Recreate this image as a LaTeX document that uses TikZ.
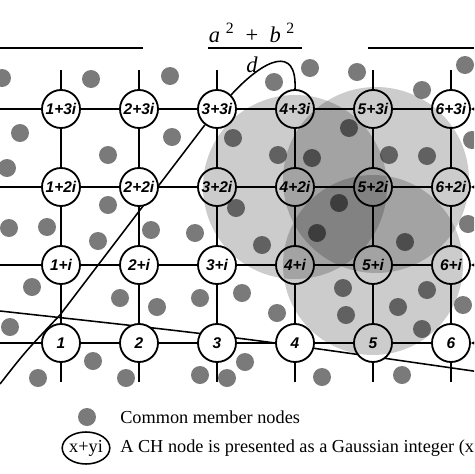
\documentclass[tikz,border=0pt]{standalone}
\usepackage{fontspec}
\setmainfont{Liberation Serif}
\newfontfamily\chfont{Liberation Sans}
\usetikzlibrary{arrows.meta,shapes.geometric}
\pgfdeclarelayer{background}
\pgfsetlayers{background,main}

\tikzset{
  chnode/.style={circle, draw, line width=1.3pt, fill=white, inner sep=0pt,
    minimum size=9.5mm, font=\chfont\bfseries\itshape\fontsize{11}{13}\selectfont},
  member/.style={fill=black!52},
  wire/.style={line width=1.1pt},
  cover/.style={fill=black, opacity=0.2},
  legend/.style={anchor=west, inner sep=0pt, font=\fontsize{13}{15}\selectfont},
}

\begin{document}
\begin{tikzpicture}[x=0.25mm, y=-0.25mm]
\useasboundingbox (0,0) rectangle (474,474);
\clip (0,0) rectangle (474,474);

% member nodes
\foreach \p in {(2,78),(91,79),(170,76),(274,82),(310,68),(357,72),(422,90),(465,65),
    (20,133),(172,137),(108,155),(7,168),(233,138),(278,155),(312,158),(349,128),
    (389,155),(427,156),(472,140),(108,205),(236,208),(339,203),(317,233),(262,245),
    (405,242),(468,224),(9,228),(47,227),(98,241),(151,230),(195,233),(32,287),
    (120,298),(157,307),(200,298),(242,293),(343,288),(427,290),(10,327),(277,313),
    (346,315),(398,307),(422,329),(463,305),(93,361),(245,362),(38,378),(126,378),
    (200,375),(227,378),(322,377),(402,375)}
  \fill[member] \p circle (9);

% CH nodes
\foreach \r/\yy in {3/109,2/187,1/265,0/343}
  \foreach \c in {1,...,6}
    \node[chnode] (n\c\r) at ({61+78*(\c-1)},\yy)
      {\ifcase\r\relax \c\or \c+i\or \c+2i\or \c+3i\fi};

% coverage areas
\fill[cover] (295,187) circle (92);
\fill[cover] (376,180) circle (93);
\fill[cover] (373,265) circle (90);

\begin{pgfonlayer}{background}
\clip (0,0) rectangle (474,474);
% rows
\foreach \r/\yy in {3/109,2/187,1/265,0/343} {
  \coordinate (w\r) at (-4,\yy);
  \coordinate (e\r) at (480,\yy);
  \draw[wire, {Stealth[length=6pt,width=6pt]}-] (w\r) -- (n1\r) -- (n2\r) -- (n3\r)
    -- (n4\r) -- (n5\r) -- (n6\r) -- (e\r);
}
% columns
\foreach \c in {1,...,6} {
  \coordinate (b\c) at ({61+78*(\c-1)},382);
  \draw[wire] (n\c3) -- (n\c2) -- (n\c1) -- (n\c0) -- (b\c);
}
\foreach \c in {1,2,3,5,6} {
  \coordinate (t\c) at ({61+78*(\c-1)},70);
  \draw[wire] (t\c) -- (n\c3);
}
% distance curve
\coordinate (cstart) at (0,384);
\coordinate (cbend) at (60,315);
\draw[wire] (cstart) .. controls (25,352) .. (cbend) -- (n33);
\draw[wire] (n33.45) .. controls (265,58) and (297,45) .. (n43.north);
% sloping line
\coordinate (lstart) at (0,311);
\coordinate (lend) at (480,372);
\draw[wire] (lstart) .. controls (237,337) .. (lend);
\end{pgfonlayer}

% formula
\draw[wire] (0,48) -- (143,48);
\draw[wire] (208,48) -- (302,48);
\draw[wire] (368,48) -- (474,48);
\node[font=\fontsize{16}{18}\selectfont] (sum) at (252,33)
  {\textit{a}\hspace{4pt}\textsuperscript{2}\hspace{8pt}+\hspace{8pt}\textit{b}\hspace{4pt}\textsuperscript{2}};
\node[font=\fontsize{16}{18}\selectfont] (dist) at (252,65) {\textit{d}};

% legend
\fill[member] (87,417) circle (9);
\node[legend] (memtext) at (120,417) {Common member nodes};
\node[draw, ellipse, line width=1.1pt, inner sep=0pt, minimum width=10.75mm,
  minimum height=8mm, font=\fontsize{13}{15}\selectfont] (chkey) at (86,448) {x+yi};
\node[legend] (chtext) at (120,448) {A CH node is presented as a Gaussian integer (x};
\end{tikzpicture}
\end{document}
